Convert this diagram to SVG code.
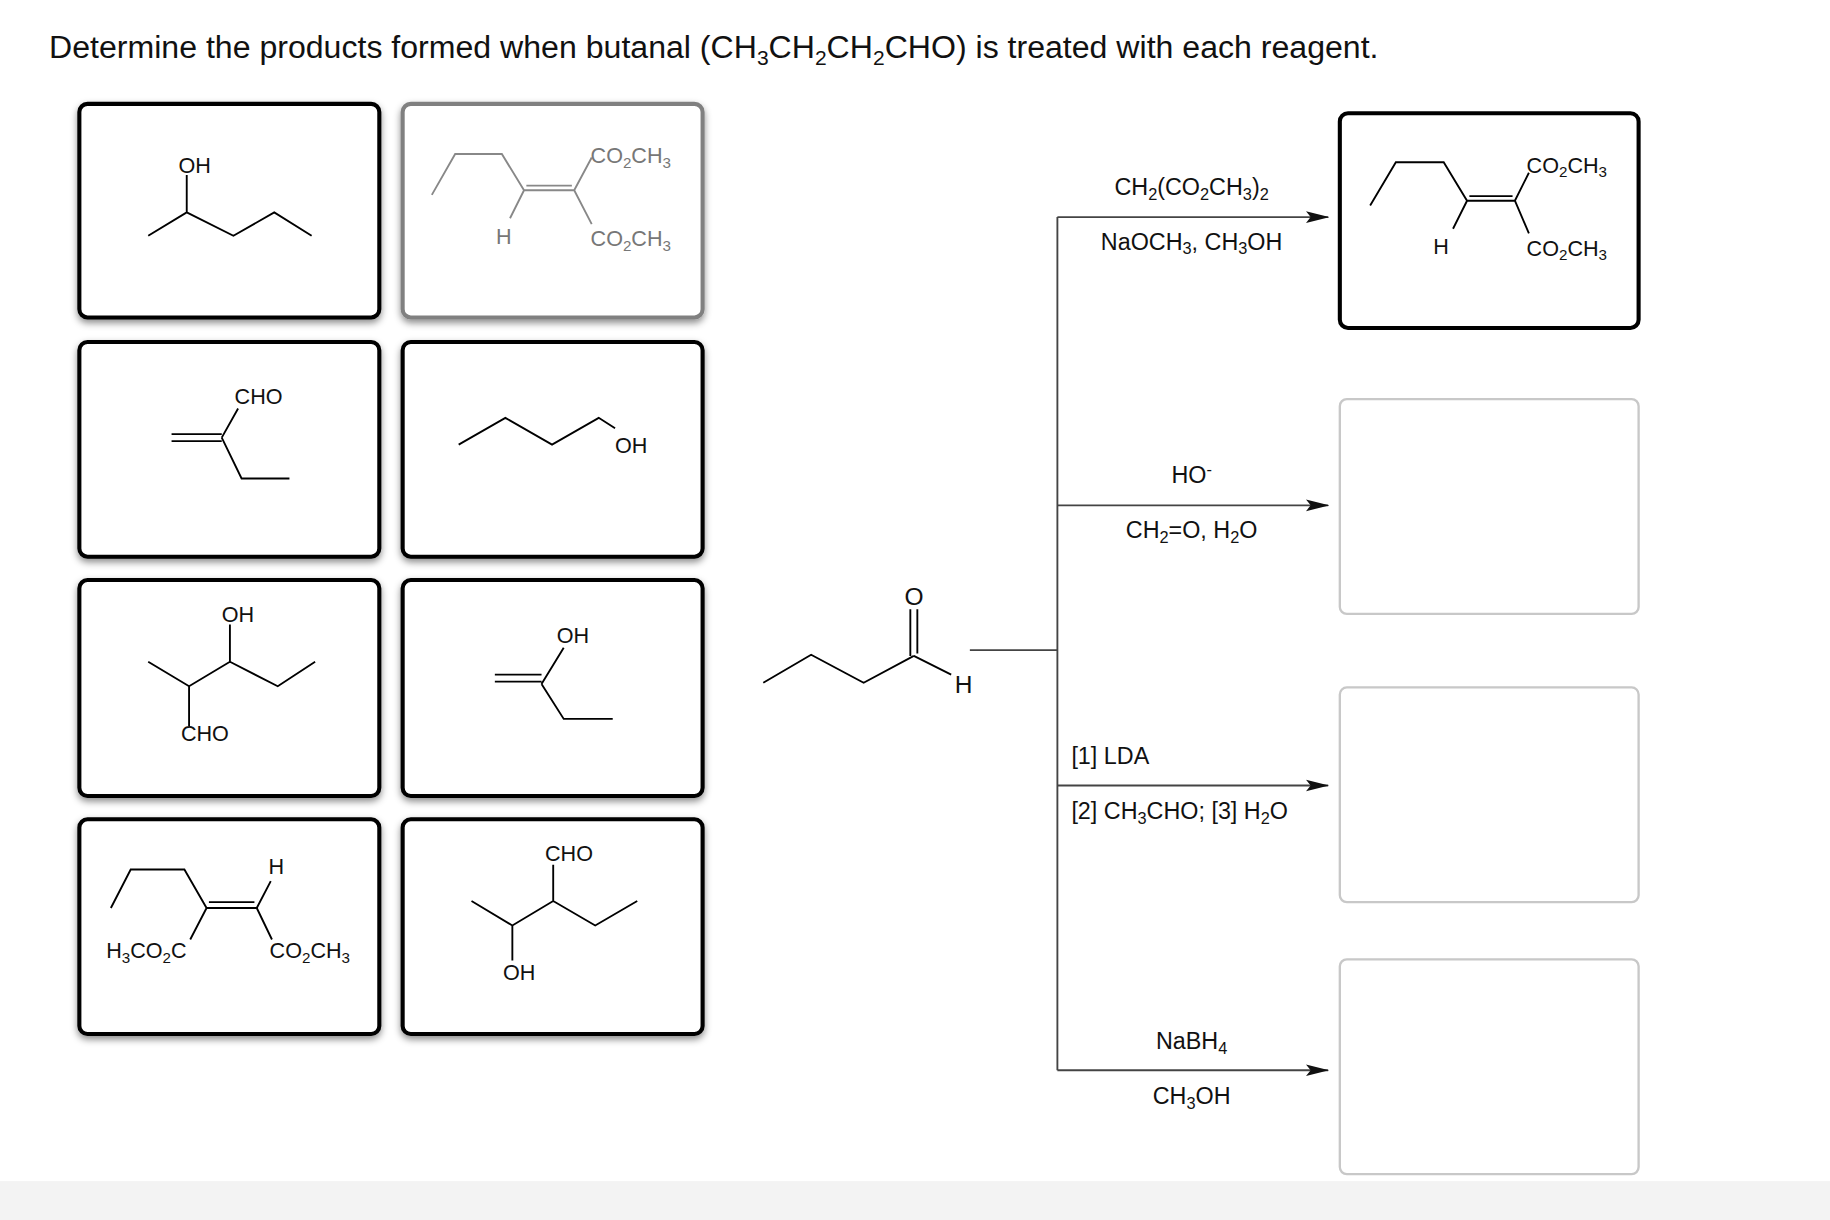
<svg xmlns="http://www.w3.org/2000/svg" width="1830" height="1220" viewBox="0 0 1830 1220">
<defs>
<style>
text{font-family:"Liberation Sans",Arial,sans-serif;fill:#111}
.m{font-size:18.5px}
.g{fill:#777}
.r{font-size:20px}
.b{fill:#fff;stroke:#000;stroke-width:3.5}
.bg{fill:#fff;stroke:#808080;stroke-width:3.5}
.bl{fill:#fff;stroke:#c8c8c8;stroke-width:2}
.s{fill:none;stroke:#000;stroke-width:1.6}
.sg{fill:none;stroke:#888;stroke-width:1.6}
.c{fill:none;stroke:#444;stroke-width:1.6}
</style>
<filter id="sh" x="-10%" y="-10%" width="125%" height="125%"><feDropShadow dx="0" dy="3" stdDeviation="3" flood-color="#000" flood-opacity="0.45"/></filter>
<marker id="ar" markerWidth="20" markerHeight="12" refX="19" refY="6" orient="auto" markerUnits="userSpaceOnUse"><path d="M0,1 L20,6 L0,11 L4,6 Z" fill="#111"/></marker>
</defs>
<rect width="1830" height="1220" fill="#fff"/>
<g transform="scale(1.1671)">
<rect x="0" y="1012" width="1568" height="40" fill="#f3f3f3"/>
<text x="42" y="50" style="font-size:27.5px">Determine the products formed when butanal (CH<tspan dy="6" font-size="18">3</tspan><tspan dy="-6">CH</tspan><tspan dy="6" font-size="18">2</tspan><tspan dy="-6">CH</tspan><tspan dy="6" font-size="18">2</tspan><tspan dy="-6">CHO) is treated with each reagent.</tspan></text>

<g id="opt1"><rect class="b" x="68" y="89" width="257" height="183" rx="7" filter="url(#sh)"/>
<text class="m" x="153" y="148">OH</text><path class="s" d="M160,150 V182 M127,202 L160,182 L200,202 L235,182 L267,202"/></g>

<g id="opt2"><rect class="bg" x="345" y="89" width="257" height="183" rx="7" filter="url(#sh)"/>
<path class="sg" d="M370,167 L390,132 L430,132 L449,163 L492,163 M451,159 H490 M449,163 L437,187 M492,163 L507,135 M492,163 L507,192"/>
<text class="m g" x="425" y="209">H</text>
<text class="m g" x="506" y="140">CO<tspan dy="4" font-size="13">2</tspan><tspan dy="-4">CH</tspan><tspan dy="4" font-size="13">3</tspan></text>
<text class="m g" x="506" y="211">CO<tspan dy="4" font-size="13">2</tspan><tspan dy="-4">CH</tspan><tspan dy="4" font-size="13">3</tspan></text></g>

<g id="opt3"><rect class="b" x="68" y="293" width="257" height="184" rx="7" filter="url(#sh)"/>
<text class="m" x="201" y="346">CHO</text><path class="s" d="M204,350 L190,375 M147,372 H190 M147,378 H190 M190,375 L207,410 H248"/></g>

<g id="opt4"><rect class="b" x="345" y="293" width="257" height="184" rx="7" filter="url(#sh)"/>
<path class="s" d="M393,381 L433,358 L473,381 L513,358 L527,367"/><text class="m" x="527" y="388">OH</text></g>

<g id="opt5"><rect class="b" x="68" y="497" width="257" height="185" rx="7" filter="url(#sh)"/>
<text class="m" x="190" y="533">OH</text><text class="m" x="155" y="635">CHO</text>
<path class="s" d="M197,535 V567 M127,567 L162,588 L197,567 L238,588 L270,567 M162,588 V622"/></g>

<g id="opt6"><rect class="b" x="345" y="497" width="257" height="185" rx="7" filter="url(#sh)"/>
<text class="m" x="477" y="551">OH</text>
<path class="s" d="M483,555 L464,586 M424,578 H464 M424,584 H464 M464,586 L483,616 H525"/></g>

<g id="opt7"><rect class="b" x="68" y="702" width="257" height="184" rx="7" filter="url(#sh)"/>
<path class="s" d="M95,778 L112,745 H158 L177,778 H220 M179,773 H218 M220,778 L232,755 M177,778 L163,805 M220,778 L233,805"/>
<text class="m" x="230" y="749">H</text>
<text class="m" x="91" y="821">H<tspan dy="4" font-size="13">3</tspan><tspan dy="-4">CO</tspan><tspan dy="4" font-size="13">2</tspan><tspan dy="-4">C</tspan></text>
<text class="m" x="231" y="821">CO<tspan dy="4" font-size="13">2</tspan><tspan dy="-4">CH</tspan><tspan dy="4" font-size="13">3</tspan></text></g>

<g id="opt8"><rect class="b" x="345" y="702" width="257" height="184" rx="7" filter="url(#sh)"/>
<text class="m" x="467" y="738">CHO</text><text class="m" x="431" y="840">OH</text>
<path class="s" d="M474,741 V772 M404,772 L439,793 L474,772 L510,793 L546,772 M439,793 V823"/></g>

<g id="butanal">
<path class="s" d="M654,585 L695,561 L740,585 L783,562 M780,522 V562 M786,522 V560 M783,562 L815,578"/>
<text x="775" y="518" style="font-size:21px">O</text><text x="818" y="594" style="font-size:21px">H</text></g>

<g id="connectors">
<path class="c" d="M831,557 H906 M906,186 V917"/>
<path class="c" d="M906,186 H1138" marker-end="url(#ar)"/>
<path class="c" d="M906,433 H1138" marker-end="url(#ar)"/>
<path class="c" d="M906,673 H1138" marker-end="url(#ar)"/>
<path class="c" d="M906,917 H1138" marker-end="url(#ar)"/>
</g>

<g id="labels">
<text class="r" x="1021" y="167" text-anchor="middle">CH<tspan dy="4" font-size="14">2</tspan><tspan dy="-4">(CO</tspan><tspan dy="4" font-size="14">2</tspan><tspan dy="-4">CH</tspan><tspan dy="4" font-size="14">3</tspan><tspan dy="-4">)</tspan><tspan dy="4" font-size="14">2</tspan></text>
<text class="r" x="1021" y="214" text-anchor="middle">NaOCH<tspan dy="4" font-size="14">3</tspan><tspan dy="-4">, CH</tspan><tspan dy="4" font-size="14">3</tspan><tspan dy="-4">OH</tspan></text>
<text class="r" x="1021" y="414" text-anchor="middle">HO<tspan dy="-7" font-size="14">-</tspan></text>
<text class="r" x="1021" y="461" text-anchor="middle">CH<tspan dy="4" font-size="14">2</tspan><tspan dy="-4">=O, H</tspan><tspan dy="4" font-size="14">2</tspan><tspan dy="-4">O</tspan></text>
<text class="r" x="918" y="655">[1] LDA</text>
<text class="r" x="918" y="702">[2] CH<tspan dy="4" font-size="14">3</tspan><tspan dy="-4">CHO; [3] H</tspan><tspan dy="4" font-size="14">2</tspan><tspan dy="-4">O</tspan></text>
<text class="r" x="1021" y="899" text-anchor="middle">NaBH<tspan dy="4" font-size="14">4</tspan></text>
<text class="r" x="1021" y="946" text-anchor="middle">CH<tspan dy="4" font-size="14">3</tspan><tspan dy="-4">OH</tspan></text>
</g>

<g id="product1"><rect class="b" x="1148" y="97" width="256" height="184" rx="7"/>
<path class="s" d="M1174,176 L1196,139 H1237 L1257,172 H1298 M1259,168 H1296 M1257,172 L1245,196 M1298,172 L1310,148 M1298,172 L1310,200"/>
<text class="m" x="1228" y="218">H</text>
<text class="m" x="1308" y="148">CO<tspan dy="4" font-size="13">2</tspan><tspan dy="-4">CH</tspan><tspan dy="4" font-size="13">3</tspan></text>
<text class="m" x="1308" y="219">CO<tspan dy="4" font-size="13">2</tspan><tspan dy="-4">CH</tspan><tspan dy="4" font-size="13">3</tspan></text></g>
<g id="product2"><rect class="bl" x="1148" y="342" width="256" height="184" rx="6"/></g>
<g id="product3"><rect class="bl" x="1148" y="589" width="256" height="184" rx="6"/></g>
<g id="product4"><rect class="bl" x="1148" y="822" width="256" height="184" rx="6"/></g>
</g>
</svg>
